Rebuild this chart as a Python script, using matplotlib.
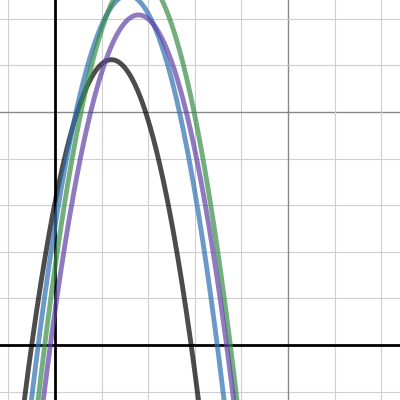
import numpy as np
import matplotlib.pyplot as plt

# parabola parameters: left root, right root, peak height
names = ["black", "blue", "green", "purple"]
colors = ["#000000", "#2d70b3", "#388c46", "#6042a6"]
left_roots = [-0.50, -0.36, -0.22, -0.10]
right_roots = [2.92, 3.48, 3.76, 3.68]
peaks = [6.12, 7.50, 7.95, 7.08]

lo, hi = -1.18, 7.4

fig = plt.figure(figsize=(4, 4), dpi=100)
ax = fig.add_axes([0, 0, 1, 1])
ax.set_xlim(lo, hi)
ax.set_ylim(lo, hi)

for v in range(-1, 8):
    c, lw = ("#cfcfcf", 0.8) if v % 5 else ("#888888", 1.0)
    if v == 0:
        continue
    ax.axvline(v, color=c, lw=lw, zorder=0)
    ax.axhline(v, color=c, lw=lw, zorder=0)
ax.axvline(0, color="black", lw=2, zorder=1)
ax.axhline(0, color="black", lw=2, zorder=1)

x = np.linspace(lo, hi, 800)
for col, l, r, p in zip(colors, left_roots, right_roots, peaks):
    a = p / ((r - l) / 2) ** 2
    ax.plot(x, -a * (x - l) * (x - r), color=col, lw=3.5, alpha=0.7, zorder=2)

ax.set_xticks([])
ax.set_yticks([])
for s in ax.spines.values():
    s.set_visible(False)
fig.savefig("out.png")
